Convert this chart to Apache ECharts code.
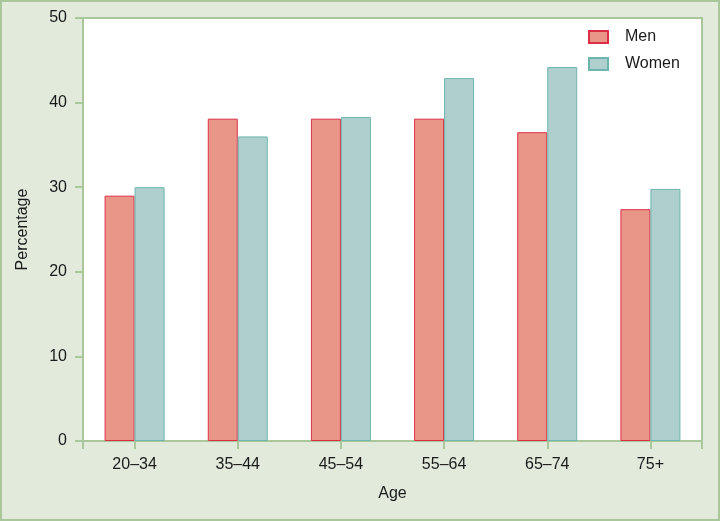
<!DOCTYPE html>
<html>
<head>
<meta charset="utf-8">
<script src="https://cdn.jsdelivr.net/npm/echarts@6/dist/echarts.min.js"></script>
<style>
  html, body { margin: 0; padding: 0; }
  #chart { width: 720px; height: 521px; }
</style>
</head>
<body>
<div id="chart"></div>
<script>
// age groups and percentages
const ageGroups = ['20–34', '35–44', '45–54', '55–64', '65–74', '75+']
const men = [29.0, 38.1, 38.1, 38.1, 36.5, 27.4]
const women = [30.0, 36.0, 38.3, 42.9, 44.2, 29.8]
const yTicks = { min: 0, max: 50, step: 10 }

const green = '#a9c79b'
const textColor = '#1a1a1a'
const font = 'Liberation Sans, Arial, sans-serif'

const chart = echarts.init(document.getElementById('chart'))

chart.setOption({
  backgroundColor: '#e1eadb',
  textStyle: { fontFamily: font },
  graphic: [{
    // outer frame
    type: 'rect',
    silent: true,
    shape: { x: 1, y: 1, width: 718, height: 519 },
    style: { fill: 'none', stroke: green, lineWidth: 2 }
  }],
  grid: {
    left: 83, right: 18, top: 18, bottom: 80,
    show: true, backgroundColor: '#ffffff', borderColor: green, borderWidth: 2
  },
  legend: {
    orient: 'vertical',
    left: 583, top: 24,
    itemWidth: 19, itemHeight: 12, itemGap: 11,
    icon: 'rect',
    textStyle: { fontSize: 16, color: textColor, padding: [0, 0, 0, 12] },
    data: ['Men', 'Women']
  },
  xAxis: [{
    type: 'category',
    data: ageGroups,
    name: 'Age',
    nameLocation: 'middle',
    nameGap: 45,
    nameTextStyle: { fontSize: 16, color: textColor },
    axisLine: { lineStyle: { color: green, width: 2 } },
    axisTick: { show: true, alignWithLabel: true, interval: 0, length: 8, lineStyle: { color: green, width: 2 } },
    axisLabel: { fontSize: 16, color: textColor, margin: 16, interval: 0 }
  }, {
    // only the two end ticks at the plot edges
    type: 'value',
    position: 'bottom',
    min: 0, max: ageGroups.length, interval: ageGroups.length,
    axisLine: { show: false },
    axisTick: { show: true, length: 8, lineStyle: { color: green, width: 2 } },
    axisLabel: { show: false },
    splitLine: { show: false }
  }],
  yAxis: {
    type: 'value',
    min: yTicks.min, max: yTicks.max, interval: yTicks.step,
    name: 'Percentage',
    nameLocation: 'middle',
    nameGap: 52,
    nameTextStyle: { fontSize: 16, color: textColor },
    axisLine: { show: true, lineStyle: { color: green, width: 2 } },
    axisTick: { show: true, length: 8, lineStyle: { color: green, width: 2 } },
    axisLabel: { fontSize: 16, color: textColor, margin: 16 },
    splitLine: { show: false }
  },
  series: [{
    name: 'Men',
    type: 'bar',
    data: men,
    barWidth: 30,
    barGap: 0,
    itemStyle: { color: '#e99689', borderColor: '#dc2f45', borderWidth: 1 }
  }, {
    name: 'Women',
    type: 'bar',
    data: women,
    barWidth: 30,
    itemStyle: { color: '#aecfcd', borderColor: '#6db6ae', borderWidth: 1 }
  }]
})
</script>
</body>
</html>
